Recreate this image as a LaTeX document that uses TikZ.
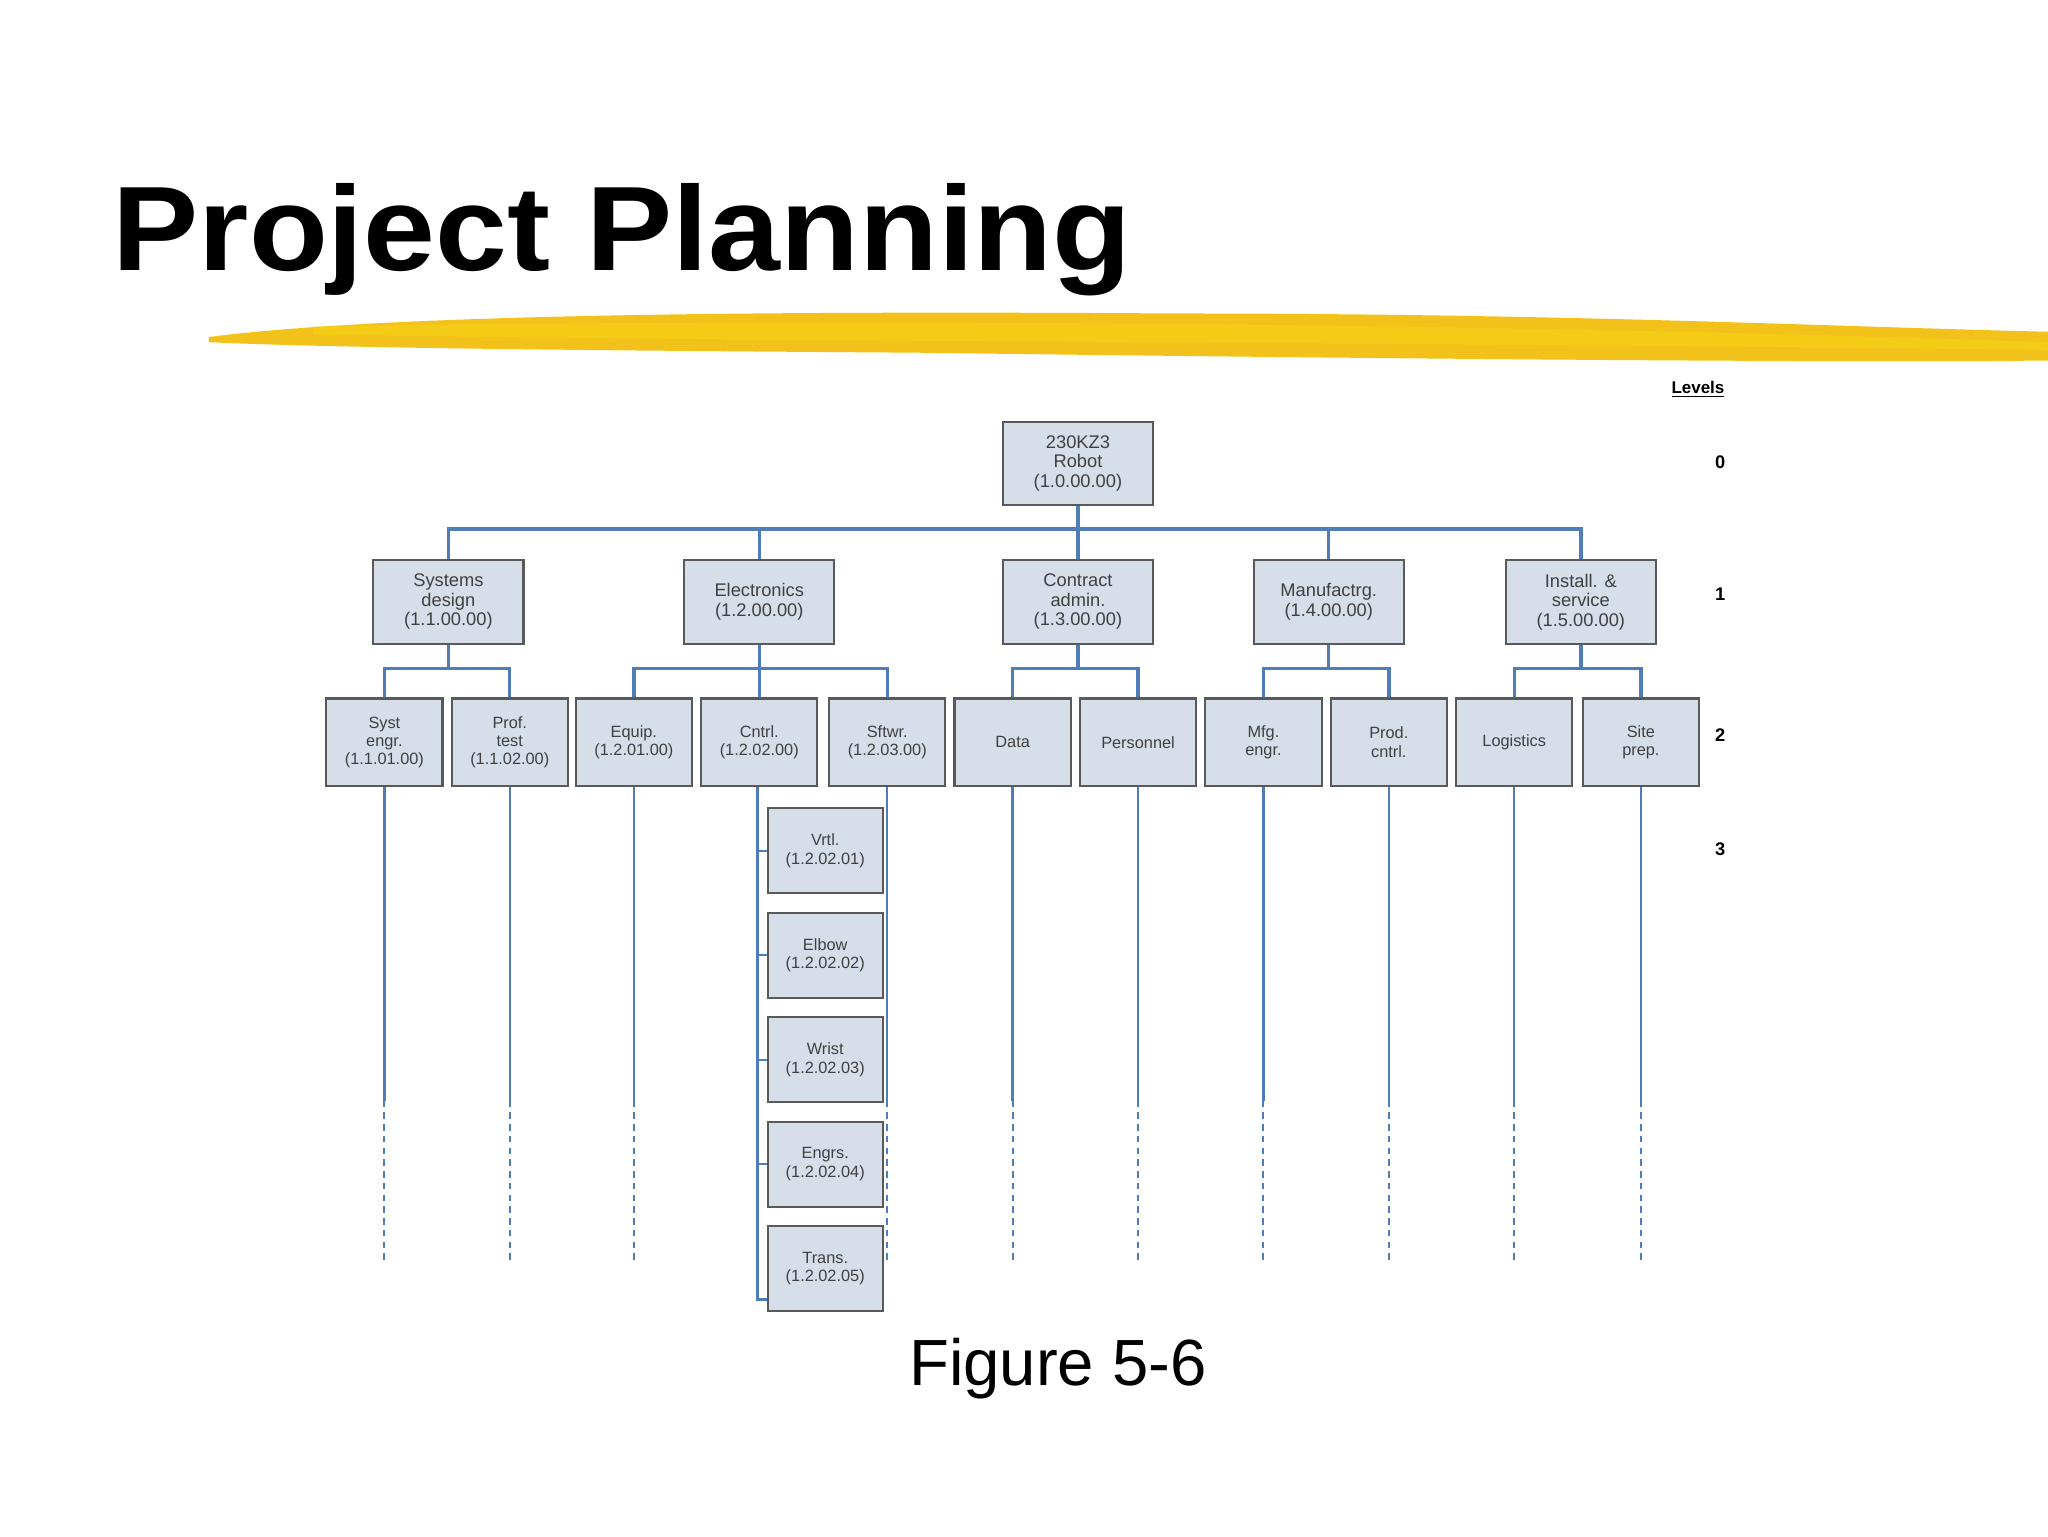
\documentclass[tikz,border=0pt]{standalone}
\usepackage{fontspec}
\setmainfont{Liberation Sans}
\usetikzlibrary{calc}
\begin{document}
\begin{tikzpicture}[x=1pt,y=-1pt,
  bx/.style={draw=black!65,line width=1.6pt,fill=boxfill,minimum width=89pt,minimum height=66pt,inner sep=1pt,align=center,font=\fontsize{14}{15}\selectfont\color{black!75},anchor=north west},
  con/.style={draw=linkblue,line width=2.6pt},
  dsh/.style={draw=linkblue,line width=1.6pt,dash pattern=on 5pt off 4pt}]
\definecolor{boxfill}{HTML}{D6DEEA}
\definecolor{linkblue}{HTML}{4F7DBA}
\definecolor{gold}{HTML}{F2C21A}
\useasboundingbox (0,0) rectangle (1568,1176);
\fill[white] (0,0) rectangle (1568,1176);
% title
\node[anchor=base west,inner sep=0,xscale=1.075,font=\bfseries\fontsize{92}{92}\selectfont] (title) at (86,207) {Project Planning};
% brush
\fill[gold] (160,258) .. controls (300,240) and (600,238) .. (900,240) .. controls (1200,240) and (1400,250) .. (1568,254)
  -- (1568,276) .. controls (1400,278) and (1000,274) .. (700,270) .. controls (400,268) and (250,266) .. (160,262) -- cycle;
\fill[gold!70!yellow,opacity=.6] (240,250) .. controls (600,244) and (1100,246) .. (1568,262) -- (1568,268) .. controls (1100,262) and (600,262) .. (240,256) -- cycle;
% root
\node[bx,minimum width=115pt,minimum height=64pt] (r) at (767,322) {230KZ3\\Robot\\(1.0.00.00)};
% level 1
\foreach \n/\x/\t in {s/285/Systems\\design\\(1.1.00.00), e/523/Electronics\\(1.2.00.00), c/767/Contract\\admin.\\(1.3.00.00), m/959/Manufactrg.\\(1.4.00.00), i/1152/Install. \&\\service\\(1.5.00.00)}
  \node[bx,minimum width=115pt,minimum height=64pt] (\n) at (\x,428) {\t};
% level 2
\foreach \n/\x/\t in {a/249/Syst\\engr.\\(1.1.01.00), b/345/Prof.\\test\\(1.1.02.00), q/440/Equip.\\(1.2.01.00), k/536/Cntrl.\\(1.2.02.00), w/634/Sftwr.\\(1.2.03.00), d/730/Data, p/826/Personnel, g/922/Mfg.\\engr., h/1018/Prod.\\cntrl., l/1114/Logistics, t/1211/Site\\prep.}
  \node[bx,minimum width=89pt,minimum height=67pt,font=\fontsize{12.5}{14}\selectfont\color{black!75}] (\n) at (\x,534) {\t};
% level 3
\foreach \n/\y/\t in {v1/618/Vrtl.\\(1.2.02.01), v2/698/Elbow\\(1.2.02.02), v3/778/Wrist\\(1.2.02.03), v4/858/Engrs.\\(1.2.02.04), v5/938/Trans.\\(1.2.02.05)}
  \node[bx,minimum width=88pt,minimum height=65pt,font=\fontsize{12.5}{14}\selectfont\color{black!75}] (\n) at (587,\y) {\t};
% connectors level 0-1
\coordinate (bus) at (0,405);
\draw[con] (s.north) |- (bus -| r.south) -| (i.north);
\draw[con] (r.south) -- (c.north);
\foreach \n in {e,m} \draw[con] (\n.north) -- (bus -| \n.north);
% level 1-2
\coordinate (bus2) at (0,512);
\draw[con] (a.north) |- (bus2 -| s.south) -| (b.north); \draw[con] (s.south) -- (bus2 -| s.south);
\draw[con] (q.north) |- (bus2 -| e.south) -| (w.north); \draw[con] (e.south) -- (bus2 -| e.south);
\draw[con] (d.north) |- (bus2 -| c.south) -| (p.north); \draw[con] (c.south) -- (bus2 -| c.south);
\draw[con] (g.north) |- (bus2 -| m.south) -| (h.north); \draw[con] (m.south) -- (bus2 -| m.south);
\draw[con] (l.north) |- (bus2 -| i.south) -| (t.north); \draw[con] (i.south) -- (bus2 -| i.south);
\draw[con] (bus2 -| k.north) -- (k.north);
% level 2-3
\coordinate (kend) at (580,995);
\draw[con,line width=1.8pt] (k.south -| kend) -- (kend) -- (kend -| v5.west);
\foreach \n in {v1,v2,v3,v4} \draw[con,line width=1.8pt] (kend |- \n.west) -- (\n.west);
% down lines
\foreach \n in {a,b,q,w,d,p,g,h,l,t} {
  \coordinate (\n1) at ($(\n.south)+(0,240)$);
  \draw[con,line width=1.8pt] (\n.south) -- (\n1);
  \draw[dsh] (\n1) -- ++(0,125);
}
% levels
\node[font=\bfseries\fontsize{13}{13}\selectfont,inner sep=1pt] (lv) at (1300,298) {\underline{Levels}};
\foreach \n/\y in {0/354,1/455,2/563,3/650} \node[font=\bfseries\fontsize{14}{14}\selectfont] (lv\n) at (1317,\y) {\n};
% caption
\node[font=\fontsize{50}{50}\selectfont] (cap) at (810,1048) {Figure 5-6};
\end{tikzpicture}
\end{document}
